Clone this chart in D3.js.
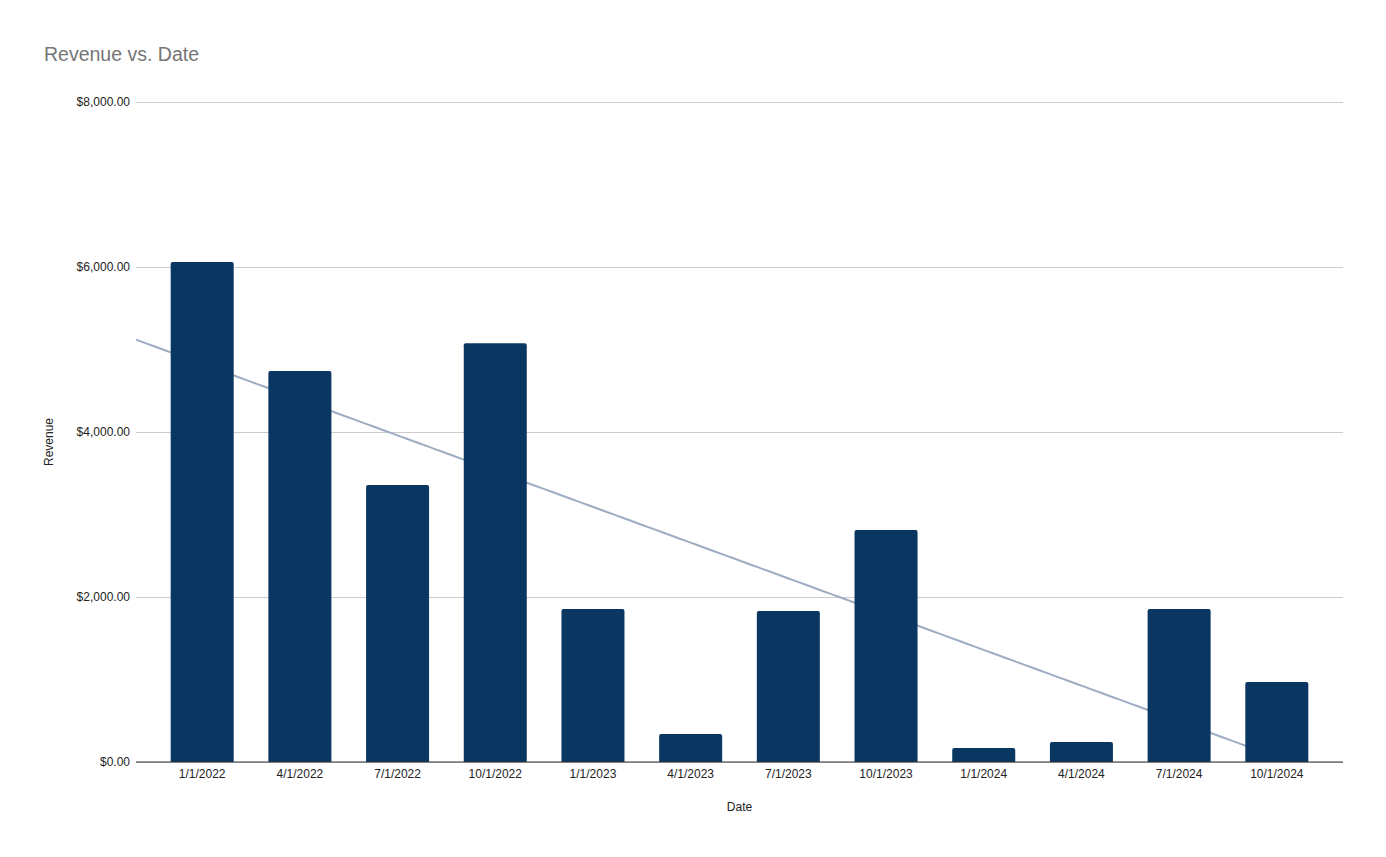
<!DOCTYPE html>
<html>
<head>
<meta charset="utf-8">
<script src="https://cdn.jsdelivr.net/npm/d3@7"></script>
<style>
    body { margin: 0; background: #fff; }
    text { font-family: "Liberation Sans", Arial, sans-serif; }
</style>
</head>
<body>
<svg id="main-svg" width="1386" height="857"></svg>
<script>
// Quarterly revenue
var dates = ['1/1/2022', '4/1/2022', '7/1/2022', '10/1/2022',
             '1/1/2023', '4/1/2023', '7/1/2023', '10/1/2023',
             '1/1/2024', '4/1/2024', '7/1/2024', '10/1/2024'];
var revenue = [6060, 4740, 3358, 5075, 1855, 339, 1830, 2812, 170, 242, 1855, 970];
var yTicks = [0, 2000, 4000, 6000, 8000];

var svg = d3.select('#main-svg');
var m = {left: 136, right: 43, top: 102, bottom: 95};
var W = 1386, H = 857;

var x = d3.scaleBand().domain(dates)
    .range([m.left, W - m.right]).padding(0.355);
var y = d3.scaleLinear().domain([0, 8000]).range([H - m.bottom, m.top]);

var fmt = function(d) { return '$' + d3.format(',.2f')(d); };

// title
svg.append('text')
    .attr('x', 44).attr('y', 61)
    .attr('font-size', 19.5).attr('fill', '#757575')
    .text('Revenue vs. Date');

// gridlines + y labels
var yAxis = svg.append('g').attr('transform', 'translate(' + m.left + ',0)')
    .call(d3.axisLeft(y).tickValues(yTicks).tickFormat(fmt)
        .tickSize(-(W - m.left - m.right)).tickPadding(6));
yAxis.select('.domain').remove();
yAxis.selectAll('.tick line').attr('stroke', '#cccccc');
yAxis.selectAll('.tick text').attr('font-size', 12).attr('fill', '#222');

// trendline (least squares on the quarter index), drawn behind the bars
var n = revenue.length;
var xm = (n - 1) / 2, ym = d3.mean(revenue);
var sxy = 0, sxx = 0;
revenue.forEach(function(v, i) { sxy += (i - xm) * (v - ym); sxx += (i - xm) * (i - xm); });
var slope = sxy / sxx, icpt = ym - slope * xm;

var c0 = x(dates[0]) + x.bandwidth() / 2;
var step = x.step();
var iL = (m.left - c0) / step, iR = (W - m.right - c0) / step;
var pts = d3.range(0, 201).map(function(k) {
    var i = iL + (iR - iL) * k / 200;
    return [c0 + i * step, y(icpt + slope * i)];
});

svg.append('clipPath').attr('id', 'plot-clip').append('rect')
    .attr('x', m.left).attr('y', m.top)
    .attr('width', W - m.left - m.right).attr('height', H - m.top - m.bottom);

svg.append('path')
    .datum(pts)
    .attr('clip-path', 'url(#plot-clip)')
    .attr('d', d3.line())
    .attr('fill', 'none')
    .attr('stroke', '#9dadc1')
    .attr('stroke-width', 2);

// bars with slightly rounded tops
var r = 2;
svg.selectAll('path.bar').data(revenue).enter().append('path')
    .classed('bar', true)
    .attr('fill', '#0a3761')
    .attr('d', function(d, i) {
        var x0 = x(dates[i]), w = x.bandwidth(), y0 = y(d), yb = y(0);
        return 'M' + x0 + ',' + yb + 'V' + (y0 + r) +
            'Q' + x0 + ',' + y0 + ' ' + (x0 + r) + ',' + y0 +
            'H' + (x0 + w - r) +
            'Q' + (x0 + w) + ',' + y0 + ' ' + (x0 + w) + ',' + (y0 + r) +
            'V' + yb + 'Z';
    });

// x axis
var xAxis = svg.append('g').attr('transform', 'translate(0,' + y(0) + ')')
    .call(d3.axisBottom(x).tickSize(0).tickPadding(7));
xAxis.select('.domain').attr('stroke', '#333').attr('d', 'M' + m.left + ',0H' + (W - m.right));
xAxis.selectAll('.tick text').attr('font-size', 12).attr('fill', '#222');

// axis titles
svg.append('text')
    .attr('x', (m.left + W - m.right) / 2).attr('y', 811)
    .attr('text-anchor', 'middle').attr('font-size', 12).attr('fill', '#222')
    .text('Date');
svg.append('text')
    .attr('transform', 'translate(53,' + 442 + ') rotate(-90)')
    .attr('text-anchor', 'middle').attr('font-size', 12).attr('fill', '#222')
    .text('Revenue');
</script>
</body>
</html>
